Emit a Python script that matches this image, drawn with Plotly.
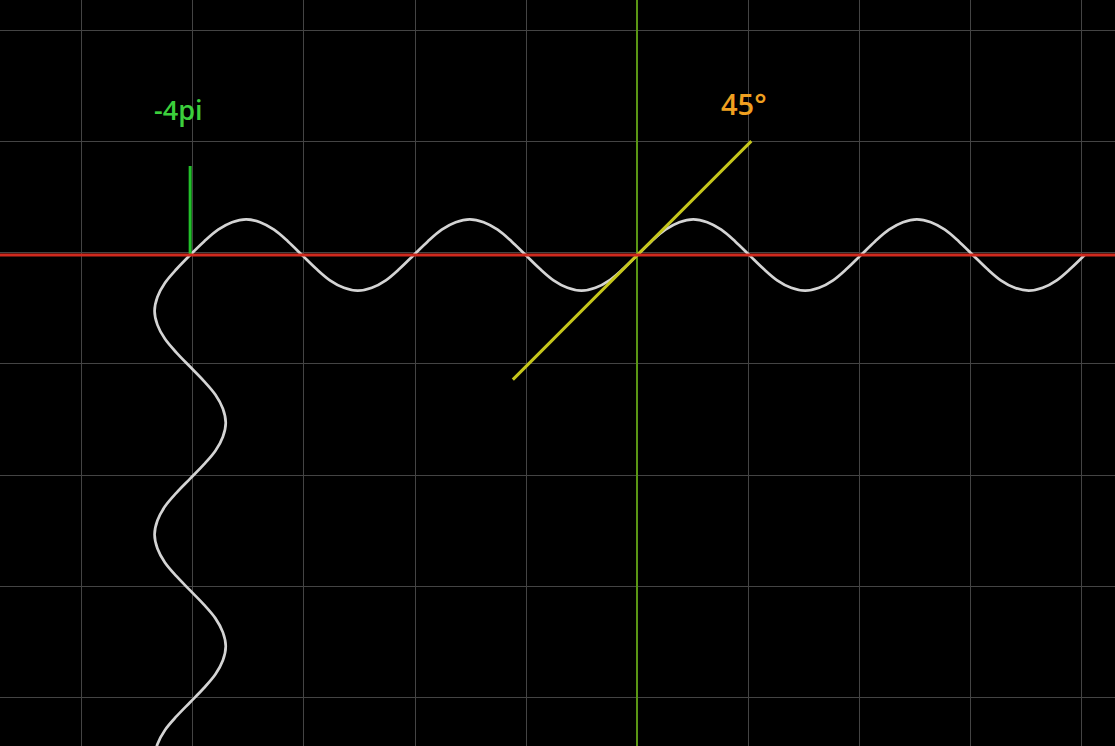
import math
import plotly.graph_objects as go

# ---- data ----
# horizontal wave: positions in units of pi, heights in data units
wave_t_pi = [-4.0, -3.875, -3.75, -3.625, -3.5, -3.375, -3.25, -3.125,
             -3.0, -2.875, -2.75, -2.625, -2.5, -2.375, -2.25, -2.125,
             -2.0, -1.875, -1.75, -1.625, -1.5, -1.375, -1.25, -1.125,
             -1.0, -0.875, -0.75, -0.625, -0.5, -0.375, -0.25, -0.125,
             0.0, 0.125, 0.25, 0.375, 0.5, 0.625, 0.75, 0.875,
             1.0, 1.125, 1.25, 1.375, 1.5, 1.625, 1.75, 1.875,
             2.0, 2.125, 2.25, 2.375, 2.5, 2.625, 2.75, 2.875,
             3.0, 3.125, 3.25, 3.375, 3.5, 3.625, 3.75, 3.875, 4.0]
wave_y = [0, 0.38, 0.71, 0.92, 1, 0.92, 0.71, 0.38, 0, -0.38, -0.71, -0.92, -1, -0.92, -0.71, -0.38,
          0, 0.38, 0.71, 0.92, 1, 0.92, 0.71, 0.38, 0, -0.38, -0.71, -0.92, -1, -0.92, -0.71, -0.38,
          0, 0.38, 0.71, 0.92, 1, 0.92, 0.71, 0.38, 0, -0.38, -0.71, -0.92, -1, -0.92, -0.71, -0.38,
          0, 0.38, 0.71, 0.92, 1, 0.92, 0.71, 0.38, 0, -0.38, -0.71, -0.92, -1, -0.92, -0.71, -0.38,
          0]

# vertical wave hanging from x = -4pi: depth in units of pi, sideways offset
drop_s_pi = [0.0, 0.125, 0.25, 0.375, 0.5, 0.625, 0.75, 0.875,
             1.0, 1.125, 1.25, 1.375, 1.5, 1.625, 1.75, 1.875,
             2.0, 2.125, 2.25, 2.375, 2.5, 2.625, 2.75, 2.875,
             3.0, 3.125, 3.25, 3.375, 3.5, 3.625, 3.75, 3.875,
             4.0, 4.125, 4.25, 4.375, 4.5]
drop_dx = [0, -0.38, -0.71, -0.92, -1, -0.92, -0.71, -0.38,
           0, 0.38, 0.71, 0.92, 1, 0.92, 0.71, 0.38,
           0, -0.38, -0.71, -0.92, -1, -0.92, -0.71, -0.38,
           0, 0.38, 0.71, 0.92, 1, 0.92, 0.71, 0.38,
           0, -0.38, -0.71, -0.92, -1]

# 45 degree line end points
diag_x = [-3.5, 3.2]
diag_y = [-3.5, 3.2]

# marker tick at -4pi
tick_x_pi = [-4.0, -4.0]
tick_y = [0.0, 2.5]

label_tick = "-4pi"
label_angle = "45°"

PI = math.pi
start_x = wave_t_pi[0] * PI

# build the single continuous curve (vertical part reversed, then horizontal)
curve_x = [start_x + d for d in reversed(drop_dx)] + [t * PI for t in wave_t_pi[1:]]
curve_y = [-s * PI for s in reversed(drop_s_pi)] + wave_y[1:]

fig = go.Figure()

fig.add_trace(go.Scatter(
    x=curve_x, y=curve_y, mode="lines",
    line=dict(color="#d4d4d4", width=2.7, shape="spline", smoothing=1.0),
    hoverinfo="skip", showlegend=False))

fig.add_trace(go.Scatter(
    x=[v * PI for v in tick_x_pi], y=tick_y, mode="lines",
    line=dict(color="#22c02a", width=3), hoverinfo="skip", showlegend=False))

fig.add_trace(go.Scatter(
    x=diag_x, y=diag_y, mode="lines",
    line=dict(color="#c6c61c", width=3), hoverinfo="skip", showlegend=False))

# horizontal reference line (drawn over the wave)
fig.add_shape(type="line", xref="paper", x0=0, x1=1, yref="y", y0=0, y1=0,
              line=dict(color="#d02a1e", width=3), layer="above")

fig.add_annotation(x=tick_x_pi[0] * PI, y=4.1, text=label_tick, showarrow=False,
                   xanchor="center", yanchor="middle", xshift=-12,
                   font=dict(family="Open Sans", size=27, color="#3ccf3c", weight=600))
fig.add_annotation(x=3.0, y=4.25, text=label_angle, showarrow=False,
                   xanchor="center", yanchor="middle",
                   font=dict(family="Open Sans", size=29, color="#f0a020", weight=600))

SCALE = 35.59  # px per unit
W, H = 1115, 746
ox, oy = 637.4, 255.0
common = dict(showgrid=True, gridcolor="#444444", gridwidth=1.2,
              showticklabels=False, ticks="", showline=False, dtick=3.123)

fig.update_layout(
    width=W, height=H, margin=dict(l=0, r=0, t=0, b=0),
    paper_bgcolor="#000000", plot_bgcolor="#000000",
    xaxis=dict(range=[-ox / SCALE, (W - ox) / SCALE], tick0=0,
               zeroline=True, zerolinecolor="rgb(90,150,20)", zerolinewidth=1.8,
               **common),
    yaxis=dict(range=[-(H - oy) / SCALE, oy / SCALE], tick0=0.062,
               zeroline=False, **common),
    showlegend=False,
)

fig.write_html(
    "out.html",
    config={"displayModeBar": False},
    post_script="document.body.style.margin='0';document.body.style.background='#000';"
                "document.documentElement.style.background='#000';",
)
